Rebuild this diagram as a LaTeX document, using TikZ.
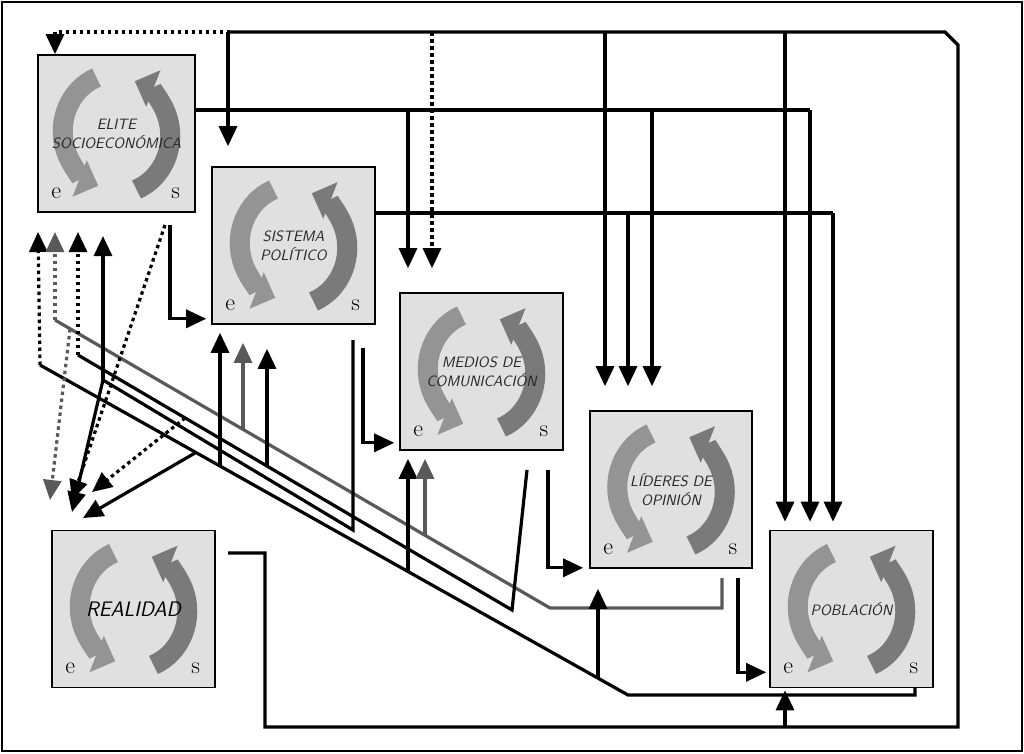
\documentclass[tikz,border=0pt]{standalone}
\usepackage{tikz}
\usetikzlibrary{arrows.meta,calc}
\tikzset{
  box/.style={draw, line width=1.6pt, fill=black!12, minimum width=157pt, minimum height=157pt, inner sep=0pt},
  lbl/.style={font=\sffamily\itshape\fontsize{15}{19}\selectfont, align=center, text=black!85},
  es/.style={font=\fontsize{24}{24}\selectfont, inner sep=0pt},
  ar/.style={line width=3.2pt, -{Triangle[length=20pt,width=18pt]}},
  ln/.style={line width=3.2pt},
  dt/.style={line width=3.2pt, dash pattern=on 3.5pt off 3.5pt},
  gr/.style={draw=black!65, color=black!65},
}
\newcommand{\cycle}[1]{%
  \begin{scope}[shift={(#1)}, x=1pt, y=1pt]
    \draw[line width=20pt, black!42, -{Triangle[length=20pt,width=38pt]}]
      (-20,56) arc[start angle=112, end angle=250, x radius=54, y radius=58];
    \draw[line width=20pt, black!52, -{Triangle[length=20pt,width=38pt]}]
      (20,-56) arc[start angle=-68, end angle=70, x radius=54, y radius=58];
  \end{scope}}
\begin{document}
\begin{tikzpicture}[x=1pt, y=-1pt]
    \useasboundingbox (0,0) rectangle (1024,753);
    \draw[line width=1.5pt] (2,2) rectangle (1022,751);

    \node[box, minimum width=157pt] (elite) at (116.5,133.5) {};
    \node[box, minimum width=163pt] (sistema) at (293.5,245.5) {};
    \node[box, minimum width=163pt] (medios) at (481.5,371.5) {};
    \node[box, minimum width=162pt] (lideres) at (671,489.5) {};
    \node[box, minimum width=163pt] (poblacion) at (851.5,609) {};
    \node[box, minimum width=163pt] (realidad) at (133.5,609) {};

    \foreach \b in {elite,sistema,medios,lideres,poblacion,realidad} {
        \cycle{\b.center}
        \node[es] at ($(\b.south west)+(19,-20)$) {e};
        \node[es] at ($(\b.south east)+(-20,-20)$) {s};
    }
    \node[lbl] at (elite.center) {ELITE\\SOCIOECONÓMICA};
    \node[lbl] at (sistema.center) {SISTEMA\\POLÍTICO};
    \node[lbl] at (medios.center) {MEDIOS DE\\COMUNICACIÓN};
    \node[lbl] at (lideres.center) {LÍDERES DE\\OPINIÓN};
    \node[lbl] at (poblacion.center) {POBLACIÓN};
    \node[lbl, font=\sffamily\itshape\fontsize{21}{24}\selectfont, text=black] at (realidad.center) {REALIDAD};

    % junctions of the feedback lines
    \coordinate (fpob) at (40,365);
    \coordinate (flid) at (55,320);
    \coordinate (fmed) at (78,355);
    \coordinate (fsis) at (103,380);

    % loop from realidad over the top
    \draw[ln] (228,553) -- (265,553) -- (265,727) -- (958,727) -- (958,45) -- (945,32) -- (230,32);
    \draw[dt] (230,32) -- (55,32);
    \draw[ar] (55,32) -- (elite.north -| 55,0);
    \draw[ar] (228,32) -- ([yshift=20pt]sistema.north -| 228,0);
    \draw[dt, -{Triangle[length=20pt,width=18pt]}] (432,32) -- ([yshift=24pt]medios.north -| 432,0);
    \draw[ar] (605,32) -- ([yshift=24pt]lideres.north -| 605,0);
    \draw[ar] (785,32) -- ([yshift=8pt]poblacion.north -| 785,0);
    \draw[ar] (785,727) -- ([yshift=-2pt]poblacion.south -| 785,0);

    % outputs of elite and sistema
    \draw[ln] (elite.east |- 0,110) -- (810,110);
    \draw[ar] (408,110) -- ([yshift=24pt]medios.north -| 408,0);
    \draw[ar] (652,110) -- ([yshift=24pt]lideres.north -| 652,0);
    \draw[ar] (810,110) -- ([yshift=8pt]poblacion.north -| 810,0);
    \draw[ln] (sistema.east |- 0,213) -- (833,213);
    \draw[ar] (628,213) -- ([yshift=24pt]lideres.north -| 628,0);
    \draw[ar] (833,213) -- ([yshift=8pt]poblacion.north -| 833,0);

    % chain e -> s
    \draw[ar] (170,225) |- ([xshift=-5pt,yshift=6pt]sistema.south west);
    \draw[ar] (363,348) |- ([xshift=-5pt,yshift=8pt]medios.south west);
    \draw[ar] (548,470) |- ([xshift=-6pt,yshift=1pt]lideres.south west);
    \draw[ar] (738,578) |- ([xshift=-3pt,yshift=16pt]poblacion.south west);

    % feedback lines
    \draw[ln] (915,688) -- (915,695) -- (628,695) -- (fpob);
    \draw[dt, -{Triangle[length=20pt,width=18pt]}] (fpob) -- (38,232);
    \draw[ln, gr] (722,578) -- (722,608) -- (550,608) -- (flid);
    \draw[dt, gr, -{Triangle[length=20pt,width=18pt]}] (flid) -- (55,232);
    \draw[ln] (527,470) -- (512,610) -- (fmed);
    \draw[dt, -{Triangle[length=20pt,width=18pt]}] (fmed) -- (78,232);
    \draw[ln] (353,340) -- (353,530) -- (fsis);
    \draw[ar] (fsis) -- (103,236);

    % up to the entries
    \draw[ar] (220,466) -- ([yshift=-8pt]sistema.south -| 220,0);
    \draw[ar, gr] (243,429) -- ([yshift=-18pt]sistema.south -| 243,0);
    \draw[ar] (267,466) -- ([yshift=-24pt]sistema.south -| 267,0);
    \draw[ar] (408,571) -- ([yshift=-8pt]medios.south -| 408,0);
    \draw[ar, gr] (425,535) -- ([yshift=-8pt]medios.south -| 425,0);
    \draw[ar] (598,678) -- ([yshift=-20pt]lideres.south -| 598,0);

    % towards realidad
    \draw[dt, -{Triangle[length=20pt,width=18pt]}] (165,225) -- (72,500);
    \draw[dt, gr, -{Triangle[length=20pt,width=18pt]}] (70,329) -- (50,500);
    \draw[ar] (fsis) -- (72,512);
    \draw[dt, -{Triangle[length=20pt,width=18pt]}] (185,418) -- (92,492);
    \draw[ar] (195,453) -- (83,518);
\end{tikzpicture}
\end{document}
